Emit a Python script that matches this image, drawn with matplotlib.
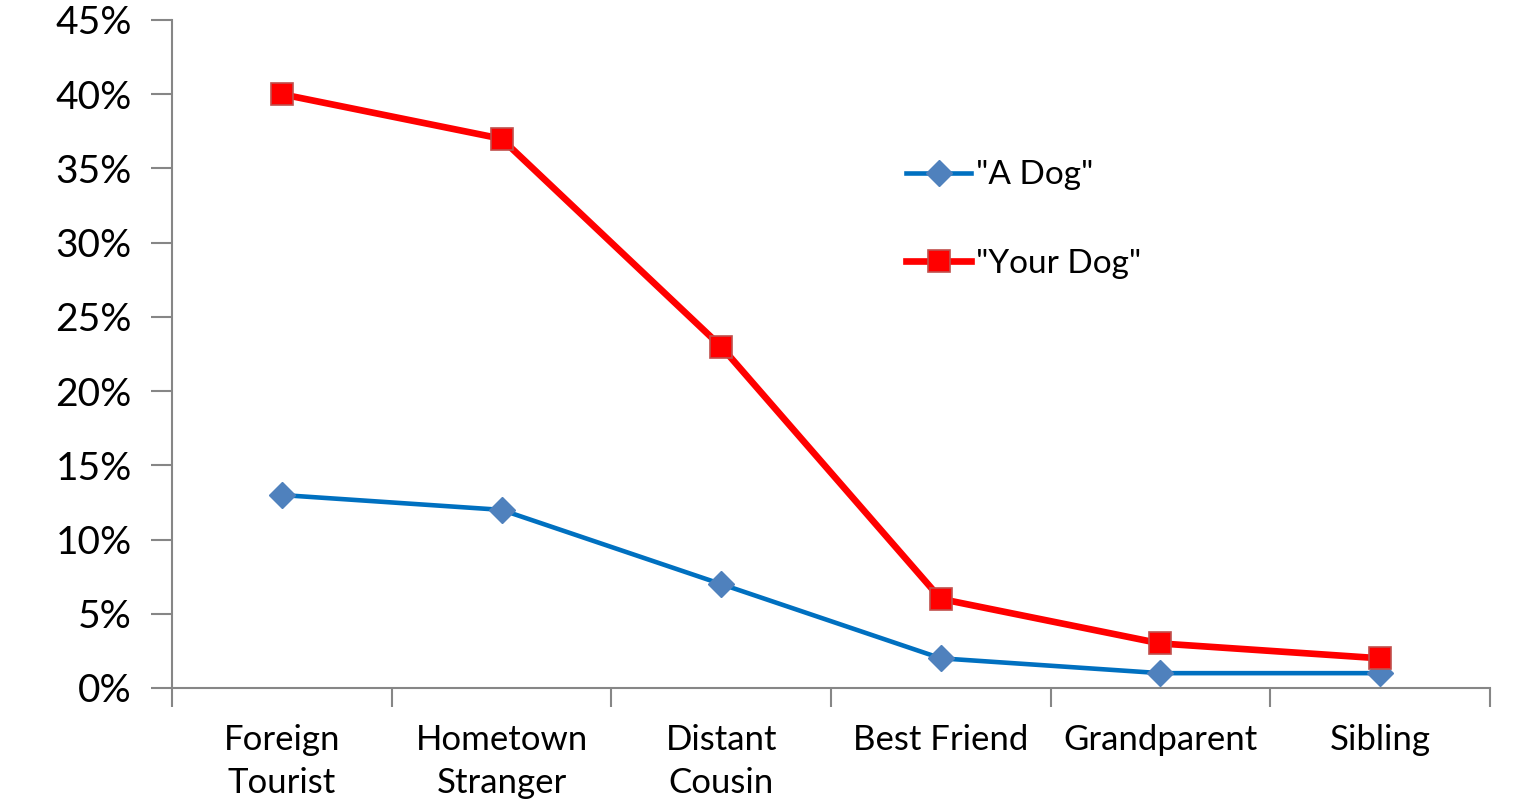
import numpy as np
import matplotlib.pyplot as plt
from matplotlib.ticker import FixedLocator, PercentFormatter

# Data
categories = ["Foreign\nTourist", "Hometown\nStranger", "Distant\nCousin",
              "Best Friend", "Grandparent", "Sibling"]
a_dog = [13, 12, 7, 2, 1, 1]
your_dog = [40, 37, 23, 6, 3, 2]

plt.rcParams['font.family'] = ['Lato', 'DejaVu Sans']

fig = plt.figure(figsize=(15.28, 8), dpi=100)
ax = fig.add_axes([0.1126, 0.14, 0.8625, 0.835])

x = np.arange(len(categories))
ax.plot(x, a_dog, color="#0070C0", lw=3.3, marker="D", markersize=13,
        markerfacecolor="#4F81BD", markeredgecolor="#4F81BD",
        label='"A Dog"', clip_on=False, zorder=3)
ax.plot(x, your_dog, color="#FF0000", lw=4.8, marker="s", markersize=16,
        markerfacecolor="#FF0000", markeredgecolor="#C0504D", markeredgewidth=1.2,
        label='"Your Dog"', clip_on=False, zorder=4)

ax.set_xlim(-0.5, len(categories) - 0.5)
ax.set_ylim(0, 45)
ax.set_yticks(np.arange(0, 46, 5))
ax.yaxis.set_major_formatter(PercentFormatter(decimals=0))

# category boundaries as ticks, labels at centres
ax.xaxis.set_major_locator(FixedLocator(np.arange(-0.5, len(categories), 1)))
ax.xaxis.set_major_formatter(plt.NullFormatter())
ax.xaxis.set_minor_locator(FixedLocator(x))
ax.set_xticklabels(categories, minor=True)

axis_col = "#868686"
for side in ["top", "right"]:
    ax.spines[side].set_visible(False)
for side in ["left", "bottom"]:
    ax.spines[side].set_color(axis_col)
    ax.spines[side].set_linewidth(1.5)

ax.tick_params(axis="y", which="major", length=15, width=1.5, color=axis_col,
               labelsize=28, pad=14)
ax.tick_params(axis="x", which="major", length=14, width=1.5, color=axis_col)
ax.tick_params(axis="x", which="minor", length=0, labelsize=25, pad=26)
for lbl in ax.get_xticklabels(minor=True):
    lbl.set_linespacing(1.4)

ax.legend(loc="upper left", bbox_to_anchor=(0.547, 0.81), frameon=False,
          fontsize=24, handlelength=1.95, handletextpad=0.15, labelspacing=1.75,
          borderaxespad=0)

plt.savefig("out.png", dpi=100)
